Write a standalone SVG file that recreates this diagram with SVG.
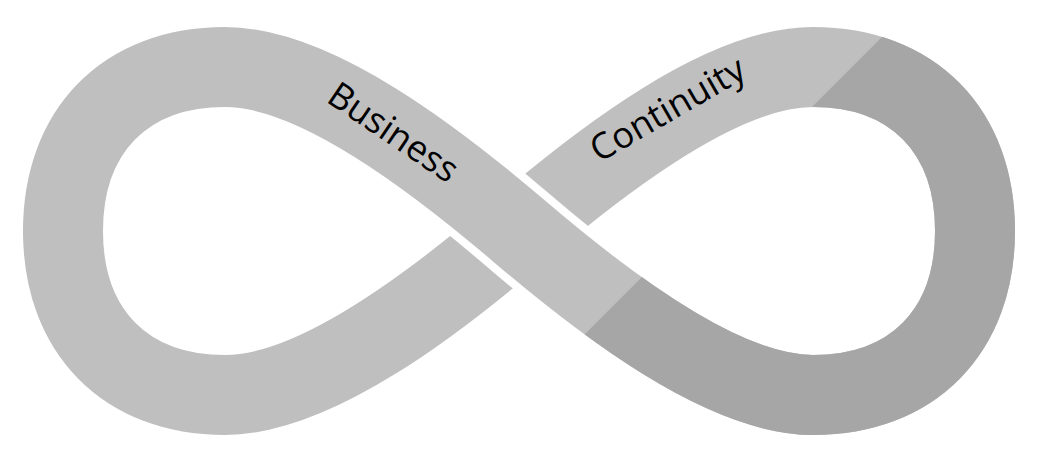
<svg xmlns="http://www.w3.org/2000/svg" width="1040" height="469" viewBox="0 0 1040 469">
<style>
.band{fill:none;stroke-width:80;stroke-linejoin:round;stroke-linecap:round}
.light{stroke:#bfbfbf}
.dark{stroke:#a6a6a6}
.gap{fill:none;stroke:#ffffff;stroke-width:96}
.lbl{font-family:"Open Sans","Noto Sans","Liberation Sans",sans-serif;font-size:36px;fill:#000000}
</style>
<defs>
<path id="under" d="M63,231 C63,331 125,395 225,395 C315,395 435.4,302.5 519,231 C602.6,159.5 723,67 813,67 C913,67 975,131 975,231"/>
<path id="over" d="M975,231 C975,331 913,395 813,395 C723,395 602.6,302.5 519,231 C435.4,159.5 315,67 225,67 C125,67 63,131 63,231"/>
<path id="cross" d="M602.36,297.95 C572.47,275.79 544.08,252.45 519,231 C493.92,209.55 465.53,186.21 435.64,164.05"/>
<path id="right" d="M519,231 C602.6,159.5 723,67 813,67 C913,67 975,131 975,231 C975,331 913,395 813,395 C723,395 602.6,302.5 519,231"/>
<clipPath id="darkside"><polygon points="919,0 1040,0 1040,469 450,469"/></clipPath>
</defs>
<rect width="1040" height="469" fill="#ffffff"/>
<g id="infinity">
<use href="#under" class="band light"/>
<use href="#cross" class="gap"/>
<use href="#over" class="band light"/>
<g clip-path="url(#darkside)"><use href="#right" class="band dark"/></g>
</g>
<g id="label-business"><text class="lbl" transform="translate(325,101) rotate(34)">Business</text></g>
<g id="label-continuity"><text class="lbl" transform="translate(599,163) rotate(-30)">Continuity</text></g>
</svg>
